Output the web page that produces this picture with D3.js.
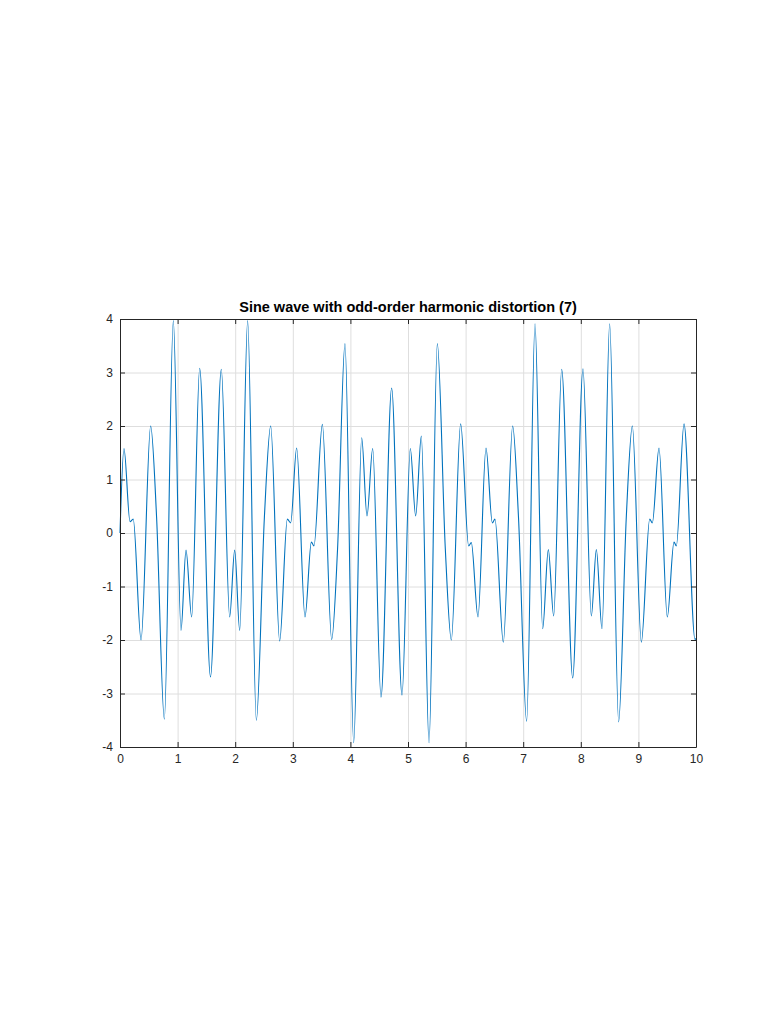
<!DOCTYPE html>
<html>
<head>
<meta charset="utf-8">
<script src="https://cdn.jsdelivr.net/npm/d3@7"></script>
<style>
  body { margin: 0; background: #fff; }
  svg { display: block; }
</style>
</head>
<body>
<div id="chart"></div>
<script>
// points (peaks, troughs, small bends)
const tValues = [
    0, 0.069, 0.174, 0.23, 0.365, 0.532, 0.635, 0.770, 0.926, 1.059,
    1.146, 1.244, 1.383, 1.571, 1.759, 1.904, 1.991, 2.078, 2.216, 2.367,
    2.507, 2.616, 2.772, 2.905, 2.963, 3.067, 3.212, 3.322, 3.368, 3.513,
    3.675, 3.777, 3.906, 4.057, 4.196, 4.288, 4.387, 4.531, 4.716, 4.896,
    5.04, 5.133, 5.231, 5.365, 5.509, 5.648, 5.752, 5.914, 6.053, 6.099,
    6.215, 6.354, 6.464, 6.51, 6.655, 6.817, 6.918, 7.06, 7.205, 7.338,
    7.436, 7.529, 7.668, 7.859, 8.038, 8.183, 8.27, 8.368, 8.501, 8.657,
    8.79, 8.895, 9.051, 9.196, 9.242, 9.358, 9.502, 9.618, 9.659, 9.792,
    9.983, 10
];
const yValues = [
    0, 1.58, 0.21, 0.26, -2.0, 2.0, 0.3, -3.48, 3.97, -1.82,
    -0.32, -1.57, 3.08, -2.69, 3.06, -1.57, -0.32, -1.82, 3.97, -3.50,
    0.3, 2.0, -2.02, 0.26, 0.19, 1.59, -1.57, -0.17, -0.24, 2.03,
    -1.99, -0.3, 3.54, -3.92, 1.78, 0.32, 1.58, -3.07, 2.71, -3.03,
    1.58, 0.32, 1.81, -3.92, 3.54, -0.3, -2.0, 2.04, -0.24, -0.18,
    -1.57, 1.59, 0.19, 0.26, -2.04, 2.0, 0.3, -3.52, 3.91, -1.79,
    -0.31, -1.55, 3.06, -2.71, 3.07, -1.55, -0.31, -1.79, 3.91, -3.53,
    0.3, 2.0, -2.04, 0.26, 0.19, 1.59, -1.57, -0.17, -0.24, 2.04,
    -1.99, -1.97
];
const xTicks = [0, 1, 2, 3, 4, 5, 6, 7, 8, 9, 10];
const yTicks = [-4, -3, -2, -1, 0, 1, 2, 3, 4];
const title = "Sine wave with odd-order harmonic distortion (7)";

const width = 768;
const height = 1024;
const margin = { top: 319, right: 72, bottom: 277, left: 120 };
const axisColor = "#262626";

const svg = d3.select("#chart")
    .append("svg")
    .attr("width", width)
    .attr("height", height)
    .style("font-family", "Helvetica, 'Liberation Sans', Arial, sans-serif");

const x = d3.scaleLinear()
    .domain([0, 10])
    .range([margin.left, width - margin.right]);

const y = d3.scaleLinear()
    .domain([-4, 4])
    .range([height - margin.bottom, margin.top]);

// plain hyphen for negatives, like the original
const fmt = d => String(d);

// grid
svg.append("g")
    .attr("stroke", "#dedede")
    .attr("stroke-width", 1)
    .call(g => g.selectAll(".vx")
        .data(xTicks)
        .join("line")
        .attr("x1", d => x(d) + 0.5).attr("x2", d => x(d) + 0.5)
        .attr("y1", y(4)).attr("y2", y(-4)))
    .call(g => g.selectAll(".hy")
        .data(yTicks)
        .join("line")
        .attr("class", "hy")
        .attr("x1", x(0)).attr("x2", x(10))
        .attr("y1", d => y(d) + 0.5).attr("y2", d => y(d) + 0.5));

// signal
const line = d3.line()
    .x((d, i) => x(tValues[i]))
    .y(d => y(d))
    .curve(d3.curveMonotoneX);

svg.append("path")
    .datum(yValues)
    .attr("fill", "none")
    .attr("stroke", "#0072BD")
    .attr("stroke-width", 1.1)
    .attr("stroke-linejoin", "round")
    .attr("d", line);

function styleAxis(g) {
    g.select(".domain").attr("stroke", axisColor);
    g.selectAll(".tick line").attr("stroke", axisColor);
    g.selectAll(".tick text").attr("fill", axisColor);
    g.attr("font-size", 12).attr("font-family", null);
}

svg.append("g")
    .attr("transform", `translate(0,${y(-4)})`)
    .call(d3.axisBottom(x).tickValues(xTicks).tickFormat(fmt)
        .tickSizeInner(-5).tickSizeOuter(0).tickPadding(7))
    .call(styleAxis);

svg.append("g")
    .attr("transform", `translate(0,${y(4)})`)
    .call(d3.axisTop(x).tickValues(xTicks).tickFormat("")
        .tickSizeInner(-5).tickSizeOuter(0))
    .call(styleAxis);

svg.append("g")
    .attr("transform", `translate(${x(0)},0)`)
    .call(d3.axisLeft(y).tickValues(yTicks).tickFormat(fmt)
        .tickSizeInner(-5).tickSizeOuter(0).tickPadding(7))
    .call(styleAxis);

svg.append("g")
    .attr("transform", `translate(${x(10)},0)`)
    .call(d3.axisRight(y).tickValues(yTicks).tickFormat("")
        .tickSizeInner(-5).tickSizeOuter(0))
    .call(styleAxis);

svg.append("text")
    .attr("x", (x(0) + x(10)) / 2)
    .attr("y", margin.top - 7)
    .attr("text-anchor", "middle")
    .attr("font-size", 14.5)
    .attr("font-weight", "bold")
    .attr("fill", "#000")
    .text(title);
</script>
</body>
</html>
